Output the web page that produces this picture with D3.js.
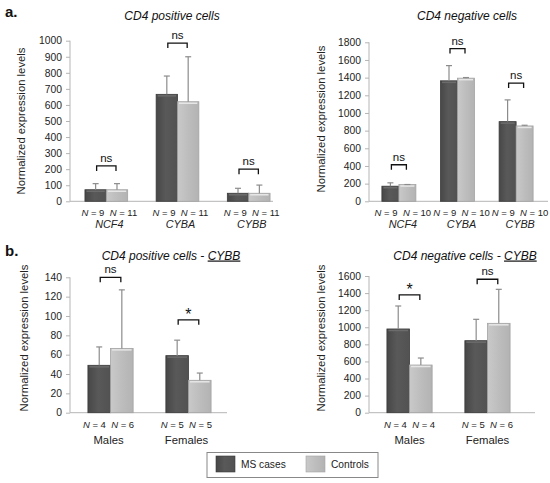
<!DOCTYPE html>
<html><head><meta charset="utf-8">
<script src="https://cdn.jsdelivr.net/npm/d3@7"></script>
<style>
html,body{margin:0;padding:0;background:#fff;}
svg{display:block;font-family:"Liberation Sans",Arial,sans-serif;}
</style></head>
<body>
<svg id="chart" width="550" height="483"></svg>
<script>
// ---------- DATA ----------
const genes = ["NCF4", "CYBA", "CYBB"];
const sexes = ["Males", "Females"];

// a. CD4 positive cells
const cd4posMS = [72, 666, 50];
const cd4posMSErr = [110, 780, 81];
const cd4posCtrl = [72, 620, 50];
const cd4posCtrlErr = [110, 900, 101];
const cd4posNMS = [9, 9, 9];
const cd4posNCtrl = [11, 11, 11];
const cd4posSig = ["ns", "ns", "ns"];
const cd4posBracket = [220, 985, 200];
const cd4posTicks = [0,100,200,300,400,500,600,700,800,900,1000];

// a. CD4 negative cells
const cd4negMS = [171, 1364, 902];
const cd4negMSErr = [209, 1536, 1148];
const cd4negCtrl = [190, 1394, 853];
const cd4negCtrlErr = [190, 1401, 861];
const cd4negNMS = [9, 9, 9];
const cd4negNCtrl = [10, 10, 10];
const cd4negSig = ["ns", "ns", "ns"];
const cd4negBracket = [414, 1729, 1338];
const cd4negTicks = [0,200,400,600,800,1000,1200,1400,1600,1800];

// b. CD4 positive cells - CYBB
const posCybbMS = [49, 59];
const posCybbMSErr = [68, 75];
const posCybbCtrl = [66.5, 33.5];
const posCybbCtrlErr = [127, 41];
const posCybbNMS = [4, 5];
const posCybbNCtrl = [6, 5];
const posCybbSig = ["ns", "*"];
const posCybbBracket = [140, 96];
const posCybbTicks = [0,20,40,60,80,100,120,140];

// b. CD4 negative cells - CYBB
const negCybbMS = [980, 843];
const negCybbMSErr = [1249, 1093];
const negCybbCtrl = [558, 1046];
const negCybbCtrlErr = [640, 1444];
const negCybbNMS = [4, 5];
const negCybbNCtrl = [4, 6];
const negCybbSig = ["*", "ns"];
const negCybbBracket = [1378, 1562];
const negCybbTicks = [0,200,400,600,800,1000,1200,1400,1600];

const seriesNames = ["MS cases", "Controls"];
const yTitle = "Normalized expression levels";

// ---------- DRAW ----------
const svg = d3.select("#chart");
const defs = svg.append("defs");
function grad(id, stops){
  const g = defs.append("linearGradient").attr("id", id).attr("x1","0").attr("x2","1").attr("y1","0").attr("y2","0");
  stops.forEach(s => g.append("stop").attr("offset", s[0]).attr("stop-color", s[1]));
}
grad("gDark", [["0%","#474747"],["45%","#595959"],["100%","#525252"]]);
grad("gLight", [["0%","#c9c9c9"],["50%","#bdbdbd"],["100%","#b3b3b3"]]);
const fills = ["url(#gDark)", "url(#gLight)"];
const strokes = ["#3a3a3a", "#a3a3a3"];
const highlights = ["#6c6c6c", "#e6e6e6"];
const FONT = '"Liberation Sans",Arial,sans-serif';

function panel(cfg){
  const g = svg.append("g");
  const x = d3.scaleBand().domain(cfg.cats).range(cfg.xr).paddingInner(cfg.pi).paddingOuter(cfg.po);
  const sub = d3.scaleBand().domain([0,1]).range([0, x.bandwidth()]);
  const y = d3.scaleLinear().domain([0, cfg.ticks[cfg.ticks.length-1]]).range(cfg.yr);

  // y axis
  const ya = g.append("g").attr("transform", `translate(${cfg.xr[0]},0)`)
    .call(d3.axisLeft(y).tickValues(cfg.ticks).tickSize(4).tickPadding(4).tickFormat(d3.format("d")));
  ya.select(".domain").attr("stroke", "#b5b5b5").attr("d", `M0,${cfg.yr[0]}V${cfg.yr[1]}`);
  ya.selectAll(".tick line").attr("stroke", "#b5b5b5");
  ya.selectAll(".tick text").attr("fill", "#222").style("font-size", "10.3px").style("font-family", FONT);

  // x baseline
  g.append("line").attr("x1", cfg.xr[0]).attr("x2", cfg.axisEnd)
    .attr("y1", y(0)).attr("y2", y(0)).attr("stroke", "#b5b5b5");

  const series = [cfg.ms, cfg.ctrl];
  const errs = [cfg.msErr, cfg.ctrlErr];
  series.forEach((vals, s) => {
    const bx = i => x(cfg.cats[i]) + sub(s);
    const bw = sub.bandwidth();
    g.selectAll(null).data(vals).join("rect")
      .attr("x", (d,i) => bx(i)).attr("y", d => y(d))
      .attr("width", bw).attr("height", d => y(0) - y(d))
      .attr("fill", fills[s]).attr("stroke", strokes[s]).attr("stroke-width", 0.8);
    g.selectAll(null).data(vals).join("line")
      .attr("x1", (d,i) => bx(i) + 1.5).attr("x2", (d,i) => bx(i) + bw - 1.5)
      .attr("y1", d => y(d) + 1.5).attr("y2", d => y(d) + 1.5)
      .attr("stroke", highlights[s]).attr("stroke-width", 1.5);
    // error bars
    const eg = g.selectAll(null).data(errs[s]).join("g");
    eg.append("line")
      .attr("x1", (d,i) => bx(i) + bw/2).attr("x2", (d,i) => bx(i) + bw/2)
      .attr("y1", (d,i) => y(vals[i])).attr("y2", d => y(d))
      .attr("stroke", "#8c8c8c").attr("stroke-width", 1.2);
    eg.append("line")
      .attr("x1", (d,i) => bx(i) + bw/2 - 3).attr("x2", (d,i) => bx(i) + bw/2 + 3)
      .attr("y1", d => y(d)).attr("y2", d => y(d))
      .attr("stroke", "#8c8c8c").attr("stroke-width", 1.2);
  });

  // significance brackets
  cfg.cats.forEach((c, i) => {
    const xa = x(c) + sub(0) + sub.bandwidth()/2 + 1;
    const xb = x(c) + sub(1) + sub.bandwidth()/2 - 1;
    const yb = y(cfg.bracket[i]);
    g.append("path").attr("d", `M${xa},${yb+5}V${yb}H${xb}V${yb+5}`)
      .attr("fill", "none").attr("stroke", "#111").attr("stroke-width", 1.3);
    const star = cfg.sig[i] === "*";
    g.append("text").attr("x", (xa+xb)/2).attr("y", yb - (star ? 0 : 4))
      .attr("text-anchor", "middle").attr("fill", "#111")
      .style("font-size", star ? "16px" : "11.5px")
      .text(cfg.sig[i]);
  });

  // category labels
  cfg.cats.forEach((c, i) => {
    const cx = x(c) + x.bandwidth()/2 + cfg.nShift;
    const t = g.append("text").attr("x", cx).attr("y", cfg.nY).attr("text-anchor", "middle")
      .attr("fill", "#222").style("font-size", "9.5px").style("white-space", "pre");
    t.append("tspan").style("font-style", "italic").text("N");
    t.append("tspan").text(` = ${cfg.nMS[i]}  `);
    t.append("tspan").style("font-style", "italic").text("N");
    t.append("tspan").text(` = ${cfg.nCtrl[i]}`);
    g.append("text").attr("x", cx).attr("y", cfg.catY)
      .attr("text-anchor", "middle").attr("fill", "#222")
      .style("font-size", cfg.catItalic ? "10.8px" : "11.3px").style("font-style", cfg.catItalic ? "italic" : "normal")
      .text(c);
  });

  // y title
  g.append("text").attr("transform", `translate(${cfg.ytX},${cfg.ytY}) rotate(-90)`)
    .attr("text-anchor", "middle").attr("fill", "#222").style("font-size", "11.3px").text(yTitle);

  // panel title
  const tt = g.append("text").attr("x", cfg.titleX).attr("y", cfg.titleY).attr("text-anchor", "middle")
    .attr("fill", "#111").style("font-size", "12px").style("font-style", "italic").style("white-space", "pre");
  tt.append("tspan").text(cfg.title);
  if (cfg.titleU) tt.append("tspan").style("text-decoration", "underline").text(cfg.titleU);
}

panel({cats: genes, ms: cd4posMS, msErr: cd4posMSErr, ctrl: cd4posCtrl, ctrlErr: cd4posCtrlErr,
  nMS: cd4posNMS, nCtrl: cd4posNCtrl, sig: cd4posSig, bracket: cd4posBracket, ticks: cd4posTicks,
  xr: [70, 285], pi: 0.4, po: 0.21, yr: [201.3, 40.7], axisEnd: 273,
  nY: 215.5, catY: 227.5, nShift: 3, catItalic: true,
  ytX: 25, ytY: 121, title: "CD4 positive cells", titleX: 172, titleY: 19.5});

panel({cats: genes, ms: cd4negMS, msErr: cd4negMSErr, ctrl: cd4negCtrl, ctrlErr: cd4negCtrlErr,
  nMS: cd4negNMS, nCtrl: cd4negNCtrl, sig: cd4negSig, bracket: cd4negBracket, ticks: cd4negTicks,
  xr: [369, 546], pi: 0.42, po: 0.22, yr: [201.3, 42.3], axisEnd: 548,
  nY: 215.5, catY: 227.5, nShift: 4, catItalic: true,
  ytX: 325, ytY: 119, title: "CD4 negative cells", titleX: 467, titleY: 19.5});

panel({cats: sexes, ms: posCybbMS, msErr: posCybbMSErr, ctrl: posCybbCtrl, ctrlErr: posCybbCtrlErr,
  nMS: posCybbNMS, nCtrl: posCybbNCtrl, sig: posCybbSig, bracket: posCybbBracket, ticks: posCybbTicks,
  xr: [70, 229], pi: 0.42, po: 0.23, yr: [412.7, 277.3], axisEnd: 227,
  nY: 427.5, catY: 443.5, nShift: -2, catItalic: false,
  ytX: 28, ytY: 338, title: "CD4 positive cells - ", titleU: "CYBB", titleX: 171, titleY: 259.5});

panel({cats: sexes, ms: negCybbMS, msErr: negCybbMSErr, ctrl: negCybbCtrl, ctrlErr: negCybbCtrlErr,
  nMS: negCybbNMS, nCtrl: negCybbNCtrl, sig: negCybbSig, bracket: negCybbBracket, ticks: negCybbTicks,
  xr: [369, 528], pi: 0.42, po: 0.23, yr: [412.7, 276], axisEnd: 535,
  nY: 427.5, catY: 443.5, nShift: 0, catItalic: false,
  ytX: 325, ytY: 338, title: "CD4 negative cells - ", titleU: "CYBB", titleX: 465, titleY: 259.5});

// panel letters
svg.append("text").attr("x", 5).attr("y", 17).style("font-size", "15px").style("font-weight", "bold").attr("fill", "#111").text("a.");
svg.append("text").attr("x", 5).attr("y", 256).style("font-size", "15px").style("font-weight", "bold").attr("fill", "#111").text("b.");

// legend
const lg = svg.append("g");
lg.append("rect").attr("x", 207).attr("y", 452.5).attr("width", 171).attr("height", 25)
  .attr("fill", "#fff").attr("stroke", "#888").attr("stroke-width", 1);
const legendX = d3.scalePoint().domain(seriesNames).range([216, 306]);
seriesNames.forEach((n, i) => {
  lg.append("rect").attr("x", legendX(n)).attr("y", 456).attr("width", 19).attr("height", 16)
    .attr("fill", fills[i]).attr("stroke", strokes[i]).attr("stroke-width", 0.6);
  lg.append("text").attr("x", legendX(n) + 25).attr("y", 468).style("font-size", "10.2px")
    .attr("fill", "#222").text(n);
});
</script>
</body></html>
